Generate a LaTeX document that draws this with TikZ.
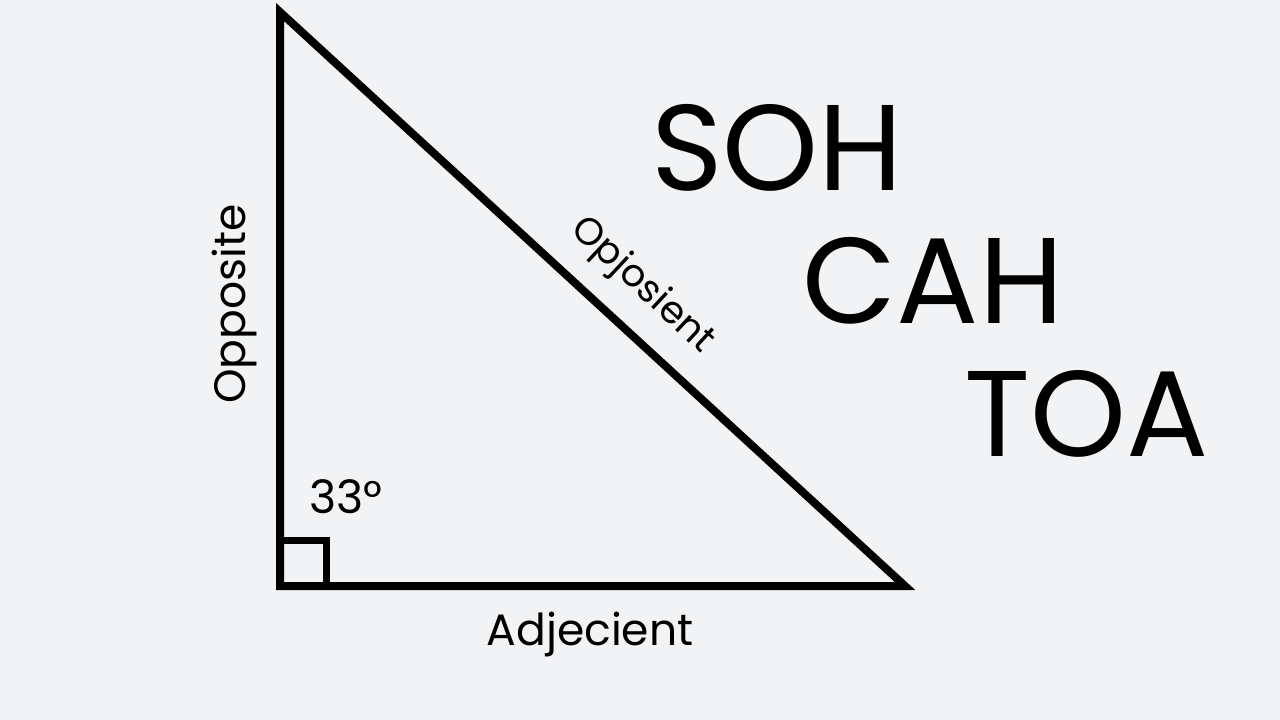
\documentclass[tikz,border=0pt]{standalone}
\usepackage{fontspec}
\setmainfont{Poppins}
\definecolor{bg}{HTML}{F2F3F5}
\begin{document}
\begin{tikzpicture}[x=1pt,y=-1pt,
  edge/.style={line width=8pt,line join=miter,black},
  lbl/.style={inner sep=0pt,text=black},
  big/.style={lbl,font=\fontsize{122}{122}\selectfont}]
\fill[bg] (0,0) rectangle (1280,720);
\useasboundingbox (0,0) rectangle (1280,720);
\coordinate (T) at (280,12);
\coordinate (R) at (280,586);
\coordinate (E) at (905,586);
\draw[edge] (T) -- (R) -- (E) -- cycle;
\coordinate (s1) at (280,540);
\coordinate (s2) at (326,540);
\coordinate (s3) at (326,586);
\draw[edge,line width=7pt] (s1) -- (s2) -- (s3);
\node[lbl,font=\fontsize{46}{46}\selectfont] (ang) at (346,497) {33°};
\node[lbl,font=\fontsize{44}{44}\selectfont,rotate=90] (opp) at (234,304) {Opposite};
\node[lbl,font=\fontsize{44}{44}\selectfont] (adj) at (590,634) {Adjecient};
\node[lbl,font=\fontsize{38}{38}\selectfont,rotate=-43] (hyp) at (642,286) {Opjosient};
\node[big] (soh) at (777,148) {SOH};
\node[big] (cah) at (933,281) {CAH};
\node[big] (toa) at (1087,414) {TOA};
\end{tikzpicture}
\end{document}
